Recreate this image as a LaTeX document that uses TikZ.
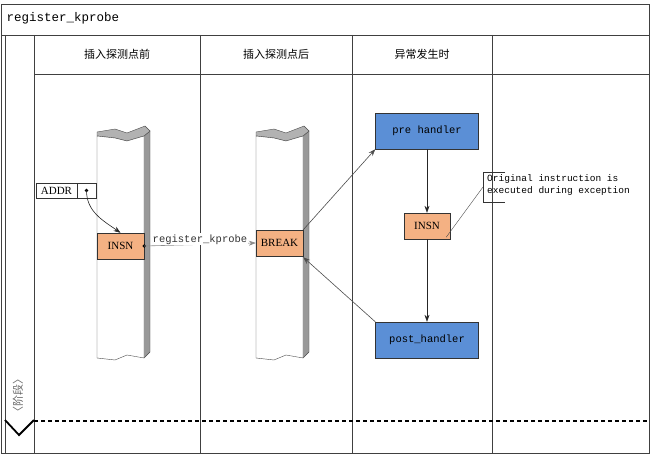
\documentclass[tikz,border=0pt]{standalone}
\usepackage{fontspec}
\setmainfont{Liberation Serif}
\newfontfamily\cjk{Noto Sans CJK SC}
\newfontfamily\mono{Liberation Mono}
\usetikzlibrary{arrows.meta}
\definecolor{blu}{HTML}{5B8FD6}
\definecolor{org}{HTML}{F4B183}
\begin{document}
\begin{tikzpicture}[x=1pt,y=-1pt,
  ln/.style={draw=black!75,line width=0.8pt},
  blk/.style={draw=black!80,fill=blu,minimum width=103pt,minimum height=36pt,font=\mono\fontsize{10.5}{12}\selectfont},
  obox/.style={draw=black!80,fill=org,font=\fontsize{11}{12}\selectfont},
  arr/.style={-{Stealth[length=7pt,width=5pt]},black!85,line width=0.6pt},
  hd/.style={font=\cjk\fontsize{11}{12}\selectfont}]
\useasboundingbox (0,0) rectangle (650,454);
\draw[ln] (1,4) rectangle (649,453);
\draw[ln] (1,35) -- (649,35);
\node[anchor=west,font=\mono\fontsize{12.5}{14}\selectfont] (title) at (3,18) {register\_kprobe};
\foreach \x in {5,34,200,352,492} \draw[ln] (\x,35) -- (\x,453);
\draw[ln] (34,74) -- (649,74);
\node[hd] (h1) at (117,54) {插入探测点前};
\node[hd] (h2) at (276,54) {插入探测点后};
\node[hd] (h3) at (422,54) {异常发生时};
\node[hd,rotate=90,text=black!60] (stage) at (18,395) {〈阶段〉};
\draw[line width=1.5pt,dash pattern=on 4pt off 3pt] (34,421) -- (650,421);
\draw[line width=1.8pt] (5,420) -- (19,435) -- (34,420);
% bars
\foreach \b in {97,256}{
  \fill[black!40] (\b+47,136) -- (\b+53,131) -- (\b+53,352) -- (\b+47,358) -- cycle;
  \draw[black!70] (\b+47,136) -- (\b+53,131) -- (\b+53,352) -- (\b+47,358);
  \fill[black!30,draw=black!70] (\b,136) -- (\b,132) -- (\b+18,129) -- (\b+30,133) -- (\b+48,126) -- (\b+53,131) -- (\b+47,136) -- (\b+30,141) -- (\b+18,138) -- cycle;
  \draw[black!70,fill=white] (\b,136) -- (\b+18,138) -- (\b+30,141) -- (\b+47,136) -- (\b+47,358) -- (\b+30,355) -- (\b+18,360) -- (\b,358) -- cycle;
}
\node[obox,minimum width=47pt,minimum height=26pt] (insn) at (120.5,246) {INSN};
\node[obox,minimum width=47pt,minimum height=26pt] (break) at (279.5,243) {BREAK};
\node[draw=black!80,fill=white,minimum width=41pt,minimum height=15pt,inner sep=0pt,font=\fontsize{11}{12}\selectfont] (addr) at (56.5,190.5) {ADDR};
\node[draw=black!80,fill=white,minimum width=19pt,minimum height=15pt,inner sep=0pt] (ptr) at (86.5,190.5) {};
\fill (ptr.center) circle (1.8pt);
\draw[arr] (ptr.center) to[out=-90,in=145] (insn.north);
\node[blk] (pre) at (427,131) {pre handler};
\node[obox,minimum width=46pt,minimum height=26pt] (insn2) at (427,226) {INSN};
\node[blk] (post) at (427,340) {post\_handler};
\draw[arr] (pre) -- (insn2);
\draw[arr] (insn2) -- (post);
\draw[arr,black!70] (break.north east) -- (pre.south west);
\draw[arr,black!70] (post.north west) -- ([yshift=-1pt]break.south east);
\fill (insn.east) circle (1.8pt);
\draw[arr,black!45] (insn.east) -- (break.west) node[midway,above=-1pt,text=black!80,font=\mono\fontsize{10.5}{12}\selectfont,fill=white,inner sep=1pt] (lbl) {register\_kprobe};
\draw[black!80] (505,172) -- (483,172) -- (483,202) -- (505,202);
\coordinate (cb) at (483,187);
\draw[black!70] ([xshift=-4pt,yshift=2pt]insn2.south east) -- (cb);
\node[anchor=north west,align=left,inner sep=0pt,font=\mono\fontsize{9.5}{12}\selectfont] (note) at (487,174) {Original instruction is\\executed during exception};
\end{tikzpicture}
\end{document}
